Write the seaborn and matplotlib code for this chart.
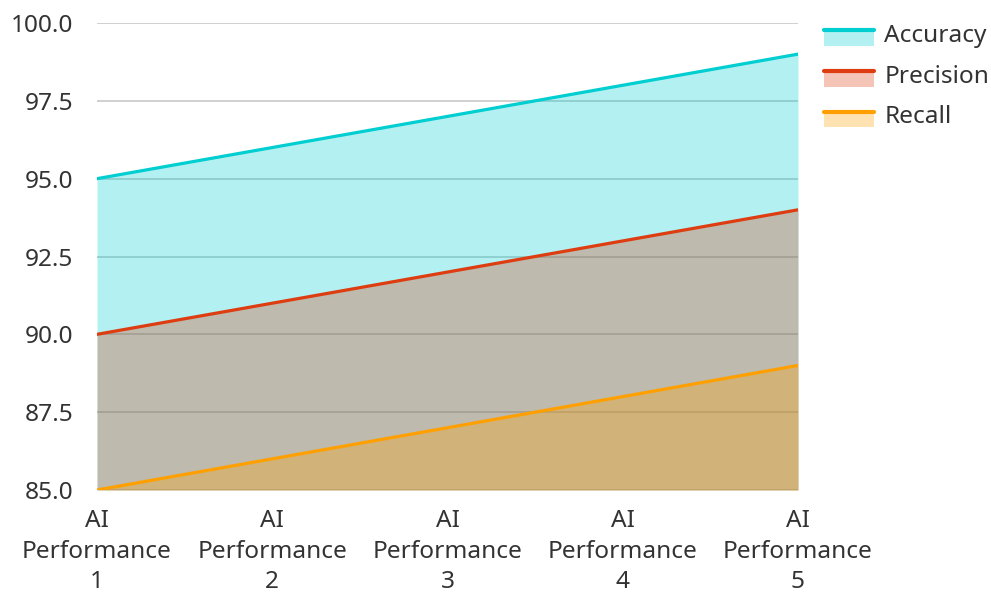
import numpy as np
import pandas as pd
import matplotlib
matplotlib.use("Agg")
import matplotlib.pyplot as plt
import seaborn as sns
from matplotlib.legend_handler import HandlerBase
from matplotlib.patches import Rectangle
from matplotlib.lines import Line2D

# data
categories = ["AI\nPerformance\n1", "AI\nPerformance\n2", "AI\nPerformance\n3",
              "AI\nPerformance\n4", "AI\nPerformance\n5"]
accuracy = [95, 96, 97, 98, 99]
precision = [90, 91, 92, 93, 94]
recall = [85, 86, 87, 88, 89]

series = ["Accuracy", "Precision", "Recall"]
colors = {"Accuracy": "#00CED1", "Precision": "#DD3D10", "Recall": "#FFA000"}

df = pd.DataFrame({"pos": np.arange(len(categories)),
                   "Accuracy": accuracy, "Precision": precision, "Recall": recall})
long_df = df.melt(id_vars="pos", var_name="metric", value_name="score")

sns.set_style("white")
plt.rcParams["font.family"] = ["Noto Sans", "DejaVu Sans"]

fig = plt.figure(figsize=(9.91, 5.95), dpi=100)
ax = fig.add_axes([97 / 991, 1 - 490 / 595, (798 - 97) / 991, (490 - 23) / 595])

# areas fill down to the axis floor
for name in series:
    ax.fill_between(df["pos"], df[name], 85, color=colors[name], alpha=0.3, linewidth=0, zorder=2)

sns.lineplot(data=long_df, x="pos", y="score", hue="metric", palette=colors,
             linewidth=2.3, ax=ax, legend=False, zorder=3)

ax.set_xlim(0, len(categories) - 1)
ax.set_ylim(85, 100)
ax.set_yticks(np.arange(85, 100.1, 2.5))
ax.set_yticklabels([f"{v:.1f}" for v in np.arange(85, 100.1, 2.5)])
ax.set_xticks(df["pos"])
ax.set_xticklabels(categories, linespacing=1.35)
ax.set_xlabel("")
ax.set_ylabel("")
ax.set_axisbelow(True)
ax.grid(axis="y", color="#c8c8c8", linewidth=1.2, zorder=0)
for s in ax.spines.values():
    s.set_visible(False)
ax.tick_params(axis="both", length=0, labelsize=17.6, labelcolor="#333333")
ax.tick_params(axis="y", pad=17)
ax.tick_params(axis="x", pad=14)


class AreaLineHandler(HandlerBase):
    def create_artists(self, legend, orig_handle, xdescent, ydescent, width, height, fontsize, trans):
        c = orig_handle.get_color()
        y0 = -ydescent - 3.5
        rect = Rectangle((-xdescent, y0), width, height, facecolor=c, alpha=0.3,
                         linewidth=0, transform=trans)
        line = Line2D([-xdescent, -xdescent + width], [y0 + height, y0 + height],
                      color=c, linewidth=3, transform=trans)
        return [rect, line]


handles = [Line2D([], [], color=colors[n]) for n in series]
leg = fig.legend(handles, series, handler_map={Line2D: AreaLineHandler()},
                 loc="upper left", bbox_to_anchor=(824 / 991, 1 - 24 / 595), frameon=False,
                 fontsize=17.6, handlelength=2.05, handleheight=0.6, handletextpad=0.42,
                 labelspacing=0.68, borderaxespad=0, borderpad=0)
for t in leg.get_texts():
    t.set_color("#333333")

fig.savefig("out.png", dpi=100)
